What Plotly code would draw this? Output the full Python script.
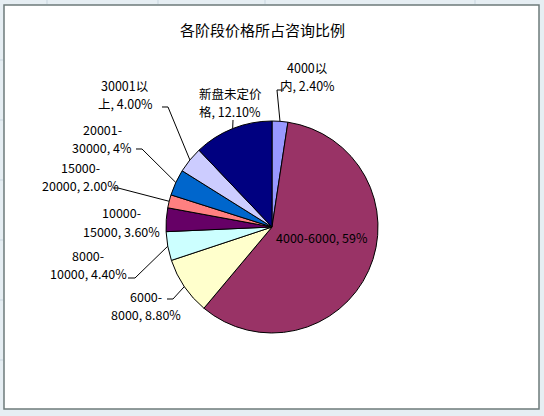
import math
import plotly.graph_objects as go

W, H = 544, 416

categories = ["4000以内", "4000-6000", "6000-8000", "8000-10000", "10000-15000",
              "15000-20000", "20001-30000", "30001以上", "新盘未定价格"]
values = [2.4, 58.7, 8.8, 4.4, 3.6, 2.0, 4.0, 4.0, 12.1]
label_lines = [
    ["4000以", "内, 2.40%"],
    ["4000-6000, 59%"],
    ["6000-", "8000, 8.80%"],
    ["8000-", "10000, 4.40%"],
    ["10000-", "15000, 3.60%"],
    ["15000-", "20000, 2.00%"],
    ["20001-", "30000, 4%"],
    ["30001以", "上, 4.00%"],
    ["新盘未定价", "格, 12.10%"],
]
colors = ["#9999FF", "#993366", "#FFFFCC", "#CCFFFF", "#660066",
          "#FF8080", "#0066CC", "#CCCCFF", "#000080"]

# layout (pixels)
CX, CY, R = 272, 227, 106
# label centre (x, y of first line)
label_pos = [(307, 68), (322, 237), (146, 296), (88, 255), (121, 213),
             (80, 167), (102, 129), (125, 85), (230, 93)]
# leader knots: list of pixel points from the label side (None = no leader)
leader_knots = [
    [(284, 90), (277, 90)],
    None,
    [(167, 299), (173, 299)],
    [(128, 278), (135, 278)],
    None,
    [(113, 188), (118, 188)],
    [(136, 149), (142, 149)],
    [(162, 107), (168, 107)],
    [(233, 120)],
]

def px(x):
    return x / W

def py(y):
    return 1 - y / H

fig = go.Figure(go.Pie(
    labels=categories, values=values, sort=False, direction="clockwise",
    rotation=0, textinfo="none", hoverinfo="label+percent",
    marker=dict(colors=colors, line=dict(color="#000000", width=1)),
    domain=dict(x=[px(CX - R), px(CX + R)], y=[py(CY + R), py(CY - R)]),
    showlegend=False,
))

shapes = [
    dict(type="rect", xref="paper", yref="paper", x0=px(4), x1=px(539),
         y0=py(409), y1=py(5), fillcolor="#FFFFFF",
         line=dict(color="#6E7B7B", width=1.5), layer="below"),
]
# faint spreadsheet grid lines outside the chart area
for gx in [47, 158, 265, 475]:
    shapes.append(dict(type="line", xref="paper", yref="paper", x0=px(gx), x1=px(gx),
                       y0=py(0), y1=py(4), line=dict(color="#C9D6DF", width=1), layer="below"))
for gy in [60, 120, 180, 240, 300, 360]:
    shapes.append(dict(type="line", xref="paper", yref="paper", x0=0, x1=px(3),
                       y0=py(gy), y1=py(gy), line=dict(color="#C9D6DF", width=1), layer="below"))

annotations = [dict(text="各阶段价格所占咨询比例", x=px(262), y=py(30), xref="paper", yref="paper",
                    showarrow=False, xanchor="center", yanchor="middle",
                    font=dict(size=15, color="#000000", family="Noto Sans CJK SC"))]

total = sum(values)
cum = 0.0
for i, v in enumerate(values):
    mid = (cum + v / 2) / total * 2 * math.pi
    cum += v
    ex = CX + R * math.sin(mid)
    ey = CY - R * math.cos(mid)
    lx, ly = label_pos[i]
    for j, line in enumerate(label_lines[i]):
        annotations.append(dict(text=line, x=px(lx), y=py(ly + 18 * j), xref="paper", yref="paper",
                                showarrow=False, xanchor="center", yanchor="middle",
                                font=dict(size=12.5, color="#000000", family="Noto Sans CJK SC")))
    knots = leader_knots[i]
    if knots:
        pts = knots + [(ex, ey)]
        path = "M " + " L ".join(f"{px(x):.5f},{py(y):.5f}" for x, y in pts)
        shapes.append(dict(type="path", xref="paper", yref="paper", path=path,
                           line=dict(color="#000000", width=1)))

fig.update_layout(
    width=W, height=H, margin=dict(l=0, r=0, t=0, b=0),
    paper_bgcolor="#E6EEF3", plot_bgcolor="#FFFFFF",
    shapes=shapes, annotations=annotations,
    font=dict(family="Noto Sans CJK SC"),
)

fig.write_html("out.html", config={"displayModeBar": False},
               post_script="document.body.style.margin='0';document.body.style.overflow='hidden';")
